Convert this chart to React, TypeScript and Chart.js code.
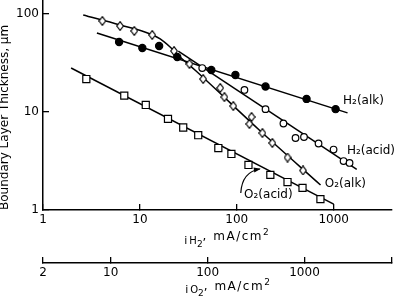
import { useEffect, useRef } from 'react';
import { Chart, registerables } from 'chart.js';

Chart.register(...registerables);

const FONT = 'DejaVu Sans';

// ---- tick values / labels ----
const xTickValues = [1, 10, 100, 1000];
const xTickLabels = ['1', '10', '100', '1000'];
const x2TickValues = [2, 10, 100, 1000, 8000];
const x2TickLabels = ['2', '10', '100', '1000', ''];
const yTickValues = [1, 10, 100];
const yTickLabels = ['1', '10', '100'];

// ---- H2 series (x on i_H2 axis, mA/cm²; y in µm) ----
const h2AlkX = [6.1, 10.6, 15.8, 24.3, 54.6, 96.8, 198, 525, 1047];
const h2AlkY = [51.8, 45.0, 47.1, 36.4, 26.8, 23.9, 18.2, 13.6, 10.7];
const h2AlkFitX = [3.6, 1390];
const h2AlkFitY = [64, 9.8];

const h2AcidX = [44, 120, 198, 303, 404, 494, 698, 998, 1265, 1459];
const h2AcidY = [28.1, 16.8, 10.7, 7.63, 5.43, 5.56, 4.77, 4.14, 3.16, 3.02];
const h2AcidFitX = [24.9, 1730];
const h2AcidFitY = [41.9, 2.59];

// ---- O2 series (x on i_O2 axis, mA/cm²; y in µm) ----
const o2AlkX = [8.2, 12.5, 17.5, 26.8, 45, 65, 90, 135, 149, 184, 284, 270, 368, 466, 668, 966];
const o2AlkY = [84.9, 75.4, 67.1, 61.1, 41.9, 30.9, 21.7, 17.6, 14.2, 11.5, 8.9, 7.55, 6.1, 4.83, 3.43, 2.53];
const o2AlkFitX = [5.2, 12.5, 25.6, 32.4, 41, 52, 75, 350, 1464];
const o2AlkFitY = [97.7, 77.2, 62.5, 55.6, 46.0, 36.4, 26.5, 6.4, 1.8];

const o2AcidX = [5.6, 13.8, 23, 39, 56, 80, 129, 176, 264, 444, 668, 954, 1460];
const o2AcidY = [21.7, 14.7, 11.8, 8.5, 6.95, 5.8, 4.29, 3.73, 2.88, 2.28, 1.93, 1.68, 1.29];
const o2AcidFitX = [3.9, 2000];
const o2AcidFitY = [28.1, 1.15];

// ---- annotations (anchors in i_H2 / µm units) ----
const seriesNames = ['H₂(alk)', 'H₂(acid)', 'O₂(alk)', 'O₂(acid)'];
const nameAtX = [1250, 1370, 810, 119];
const nameAtY = [12.9, 4.05, 1.84, 1.42];
const arrowX = [110, 113, 173];
const arrowY = [1.49, 2.44, 2.62];

const xTitle = [
  { t: 'i', s: 11, dy: 4, gap: 0, ls: 0 },
  { t: 'H', s: 10, dy: 4, gap: 2, ls: 0 },
  { t: '2', s: 9, dy: 7, gap: 0, ls: 0 },
  { t: ', mA/cm', s: 12, dy: 0, gap: 0, ls: 1.5 },
  { t: '2', s: 9, dy: -5, gap: 0, ls: 0 },
];
const x2Title = [
  { t: 'i', s: 11, dy: 3, gap: 0, ls: 0 },
  { t: 'O', s: 10, dy: 3, gap: 2, ls: 0 },
  { t: '2', s: 9, dy: 6, gap: 0, ls: 0 },
  { t: ', mA/cm', s: 12, dy: 0, gap: 0, ls: 1.5 },
  { t: '2', s: 9, dy: -5, gap: 0, ls: 0 },
];

const pts = (xs: number[], ys: number[]) => xs.map((x, i) => ({ x, y: ys[i] }));

function drawPieces(ctx: any, pieces: any[], cx: number, baseY: number) {
  let total = 0;
  const widths: number[] = [];
  for (const p of pieces) {
    ctx.font = `${p.s}px "${FONT}"`;
    ctx.letterSpacing = `${p.ls}px`;
    const w = ctx.measureText(p.t).width;
    widths.push(w);
    total += w + p.gap;
  }
  let x = cx - total / 2;
  pieces.forEach((p, i) => {
    ctx.font = `${p.s}px "${FONT}"`;
    ctx.letterSpacing = `${p.ls}px`;
    x += p.gap;
    ctx.fillText(p.t, x, baseY + p.dy);
    x += widths[i];
  });
  ctx.letterSpacing = '0px';
}

const annotate = {
  id: 'annotate',
  afterDatasetsDraw(chart: any) {
    const { ctx, scales } = chart;
    const sx = scales.x;
    const sy = scales.y;
    ctx.save();
    ctx.fillStyle = '#000';
    ctx.strokeStyle = '#000';
    ctx.font = `12px "${FONT}"`;
    ctx.textAlign = 'left';
    ctx.textBaseline = 'middle';
    seriesNames.forEach((n, i) => {
      ctx.fillText(n, sx.getPixelForValue(nameAtX[i]), sy.getPixelForValue(nameAtY[i]));
    });
    const p = arrowX.map((v, i) => ({ x: sx.getPixelForValue(v), y: sy.getPixelForValue(arrowY[i]) }));
    ctx.lineWidth = 1.2;
    ctx.beginPath();
    ctx.moveTo(p[0].x, p[0].y);
    ctx.quadraticCurveTo(p[1].x, p[1].y, p[2].x, p[2].y);
    ctx.stroke();
    const ang = Math.atan2(p[2].y - p[1].y, p[2].x - p[1].x);
    const L = 6;
    const W = 2.6;
    const c = Math.cos(ang);
    const s = Math.sin(ang);
    ctx.beginPath();
    ctx.moveTo(p[2].x + c, p[2].y + s);
    ctx.lineTo(p[2].x - c * L - s * W, p[2].y - s * L + c * W);
    ctx.lineTo(p[2].x - c * L + s * W, p[2].y - s * L - c * W);
    ctx.closePath();
    ctx.fill();
    ctx.restore();
  },
  afterDraw(chart: any) {
    const { ctx, scales, chartArea } = chart;
    ctx.save();
    ctx.fillStyle = '#000';
    ctx.textAlign = 'left';
    ctx.textBaseline = 'alphabetic';
    const cx = (chartArea.left + chartArea.right) / 2 + 9;
    drawPieces(ctx, xTitle, cx, scales.x.top + 30);
    drawPieces(ctx, x2Title, cx + 1, scales.x2.top + 27);
    ctx.restore();
  },
};

function makeDiamond(): HTMLCanvasElement {
  const c = document.createElement('canvas');
  c.width = 8;
  c.height = 10;
  const g = c.getContext('2d')!;
  g.beginPath();
  g.moveTo(4, 0.7);
  g.lineTo(7.3, 5);
  g.lineTo(4, 9.3);
  g.lineTo(0.7, 5);
  g.closePath();
  g.fillStyle = '#fff';
  g.fill();
  g.lineWidth = 1.2;
  g.strokeStyle = '#000';
  g.stroke();
  return c;
}

function zeroPad(s: any) {
  s.paddingLeft = 0;
  s.paddingRight = 0;
  s.paddingTop = 0;
  s.paddingBottom = 0;
}

export default function App() {
  const ref = useRef<HTMLCanvasElement>(null);

  useEffect(() => {
    document.body.style.margin = '0';
    const canvas = ref.current!;
    const diamond = makeDiamond();
    const font = { family: FONT, size: 12 };

    const lineDs = (data: any[], axis: string, extra: any = {}) => ({
      data,
      xAxisID: axis,
      yAxisID: 'y',
      showLine: true,
      borderColor: '#000',
      borderWidth: 1.5,
      pointRadius: 0,
      fill: false,
      order: 2,
      ...extra,
    });
    const markDs = (data: any[], axis: string, extra: any) => ({
      data,
      xAxisID: axis,
      yAxisID: 'y',
      showLine: false,
      pointBorderColor: '#000',
      pointBorderWidth: 1.2,
      order: 0,
      ...extra,
    });

    const grid = {
      display: true,
      drawOnChartArea: false,
      drawTicks: true,
      tickLength: -6,
      color: '#000',
      lineWidth: 1.3,
    };
    const border = { display: true, color: '#000', width: 1.5 };

    const chart = new Chart(canvas, {
      type: 'line',
      data: {
        datasets: [
          lineDs(pts(h2AlkFitX, h2AlkFitY), 'x'),
          lineDs(pts(h2AcidFitX, h2AcidFitY), 'x'),
          lineDs(pts(o2AlkFitX, o2AlkFitY), 'x2', { tension: 0.4, cubicInterpolationMode: 'monotone' }),
          lineDs(pts(o2AcidFitX, o2AcidFitY), 'x2'),
          markDs(pts(h2AlkX, h2AlkY), 'x', { pointStyle: 'circle', pointRadius: 3.6, pointBackgroundColor: '#000' }),
          markDs(pts(h2AcidX, h2AcidY), 'x', { pointStyle: 'circle', pointRadius: 3.3, pointBackgroundColor: '#fff' }),
          markDs(pts(o2AlkX, o2AlkY), 'x2', { pointStyle: diamond, pointRadius: 4, pointBackgroundColor: '#fff' }),
          markDs(pts(o2AcidX, o2AcidY), 'x2', { pointStyle: 'rect', pointRadius: 5, pointBackgroundColor: '#fff' }),
        ] as any,
      },
      options: {
        responsive: false,
        maintainAspectRatio: false,
        animation: false,
        devicePixelRatio: 1,
        layout: { autoPadding: false, padding: { left: 0, right: 5, top: 0, bottom: 0 } },
        plugins: { legend: { display: false }, tooltip: { enabled: false } },
        scales: {
          x: {
            type: 'logarithmic',
            axis: 'x',
            position: 'bottom',
            weight: 0,
            min: 1,
            max: 4000,
            afterBuildTicks: (s: any) => {
              s.ticks = xTickValues.map((v) => ({ value: v }));
            },
            afterFit: (s: any) => {
              s.height = 53;
              zeroPad(s);
            },
            ticks: {
              callback: (_v: any, i: number) => xTickLabels[i],
              font,
              color: '#000',
              padding: 9,
              maxRotation: 0,
              autoSkip: false,
            },
            grid,
            border,
          },
          x2: {
            type: 'logarithmic',
            axis: 'x',
            position: 'bottom',
            weight: 1,
            min: 2,
            max: 8000,
            afterBuildTicks: (s: any) => {
              s.ticks = x2TickValues.map((v) => ({ value: v }));
            },
            afterFit: (s: any) => {
              s.height = 40;
              zeroPad(s);
            },
            ticks: {
              callback: (_v: any, i: number) => x2TickLabels[i],
              font,
              color: '#000',
              padding: 9,
              maxRotation: 0,
              autoSkip: false,
            },
            grid,
            border,
          },
          y: {
            type: 'logarithmic',
            axis: 'y',
            position: 'left',
            min: 1,
            max: 139,
            afterBuildTicks: (s: any) => {
              s.ticks = yTickValues.map((v) => ({ value: v }));
            },
            afterFit: (s: any) => {
              s.width = 43;
              zeroPad(s);
            },
            ticks: {
              callback: (_v: any, i: number) => yTickLabels[i],
              font,
              color: '#000',
              padding: 10,
              autoSkip: false,
            },
            grid,
            border,
            title: {
              display: true,
              text: 'Boundary Layer Thickness, μm',
              align: 'start',
              color: '#000',
              font,
              padding: { top: -2, bottom: 0 },
            },
          },
        } as any,
      },
      plugins: [annotate],
    });
    return () => chart.destroy();
  }, []);

  return (
    <div style={{ width: 397, height: 303 }}>
      <canvas ref={ref} width={397} height={303} style={{ display: 'block' }} />
    </div>
  );
}
